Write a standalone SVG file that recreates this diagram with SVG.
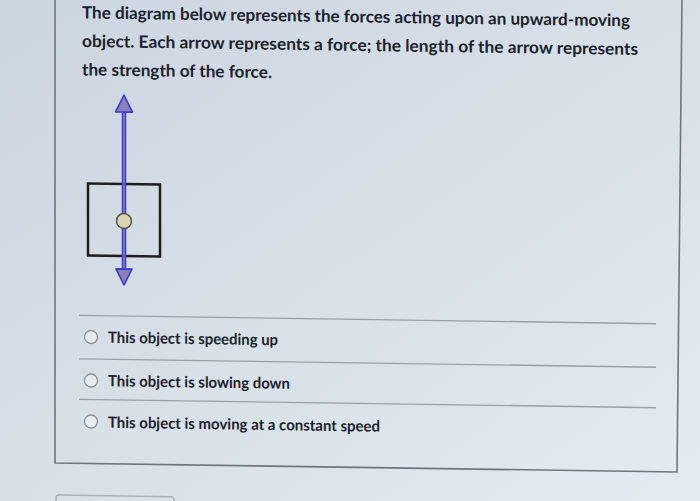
<svg xmlns="http://www.w3.org/2000/svg" width="700" height="501" viewBox="0 0 700 501">
  <defs>
    <linearGradient id="bg" x1="0" y1="0" x2="1" y2="1">
      <stop offset="0" stop-color="#cbd5e0"/>
      <stop offset="0.6" stop-color="#dae2e9"/>
      <stop offset="1" stop-color="#e4ebf1"/>
    </linearGradient>
    <style>
      .q { font-family: Lato, "Liberation Sans", sans-serif; font-weight: 700; font-size: 17px; fill: #1b222c; }
      .opt { font-family: Lato, "Liberation Sans", sans-serif; font-weight: 700; font-size: 15.5px; fill: #1b222c; }
      .sep { stroke: #98a1a9; stroke-width: 1.4; fill: none; }
      .radio { fill: #e6ecf1; stroke: #8b9298; stroke-width: 1.3; }
      .force-outer { stroke: #3b3bcc; stroke-width: 4.5; fill: none; }
      .force-inner { stroke: #8a80b6; stroke-width: 1.6; fill: none; }
      .head { fill: #8a80b6; stroke: #3b3bcc; stroke-width: 1.6; stroke-linejoin: round; }
    </style>
  </defs>
  <rect x="0" y="0" width="700" height="501" fill="url(#bg)"/>
  <g transform="matrix(1,0.0145,0,1,0,-0.8)">
    <g id="card">
      <path d="M55,-12 L682,-12 L677,463 L55,463 Z" fill="none" stroke="#6e7780" stroke-width="1.6"/>
    </g>
    <g id="question">
      <text class="q" x="82" y="18" textLength="548" lengthAdjust="spacingAndGlyphs">The diagram below represents the forces acting upon an upward-moving</text>
      <text class="q" x="82" y="46.5" textLength="556" lengthAdjust="spacingAndGlyphs">object. Each arrow represents a force; the length of the arrow represents</text>
      <text class="q" x="82" y="75" textLength="190" lengthAdjust="spacingAndGlyphs">the strength of the force.</text>
    </g>
    <g id="object">
      <rect x="88" y="183" width="72" height="72" fill="none" stroke="#1e1e1e" stroke-width="2.5"/>
    </g>
    <g id="connectors">
      <g id="force-up">
        <line class="force-outer" x1="124" y1="220" x2="124" y2="110"/>
        <line class="force-inner" x1="124" y1="220" x2="124" y2="110"/>
        <path class="head" d="M124,94 L132.5,111 L115.5,111 Z"/>
      </g>
      <g id="force-down">
        <line class="force-outer" x1="124" y1="220" x2="124" y2="269"/>
        <line class="force-inner" x1="124" y1="220" x2="124" y2="269"/>
        <path class="head" d="M124,284 L132,268 L116,268 Z"/>
      </g>
    </g>
    <g id="center-point">
      <circle cx="124" cy="220" r="7.5" fill="#d8d3b3" stroke="#55554d" stroke-width="1.5"/>
    </g>
    <g id="options">
      <line class="sep" x1="79" y1="315" x2="656" y2="315"/>
      <g id="option-1">
        <circle class="radio" cx="91" cy="336.5" r="6.5"/>
        <text class="opt" x="108" y="342" textLength="170" lengthAdjust="spacingAndGlyphs">This object is speeding up</text>
      </g>
      <line class="sep" x1="79" y1="358.5" x2="656" y2="358.5"/>
      <g id="option-2">
        <circle class="radio" cx="91" cy="380" r="6.5"/>
        <text class="opt" x="108" y="385.5" textLength="182" lengthAdjust="spacingAndGlyphs">This object is slowing down</text>
      </g>
      <line class="sep" x1="79" y1="399" x2="656" y2="399"/>
      <g id="option-3">
        <circle class="radio" cx="91" cy="421" r="6.5"/>
        <text class="opt" x="108" y="427" textLength="272" lengthAdjust="spacingAndGlyphs">This object is moving at a constant speed</text>
      </g>
    </g>
    <g id="next-box">
      <rect x="56" y="495" width="118" height="24" rx="3" fill="none" stroke="#a9b1b9" stroke-width="1.5"/>
    </g>
  </g>
</svg>
